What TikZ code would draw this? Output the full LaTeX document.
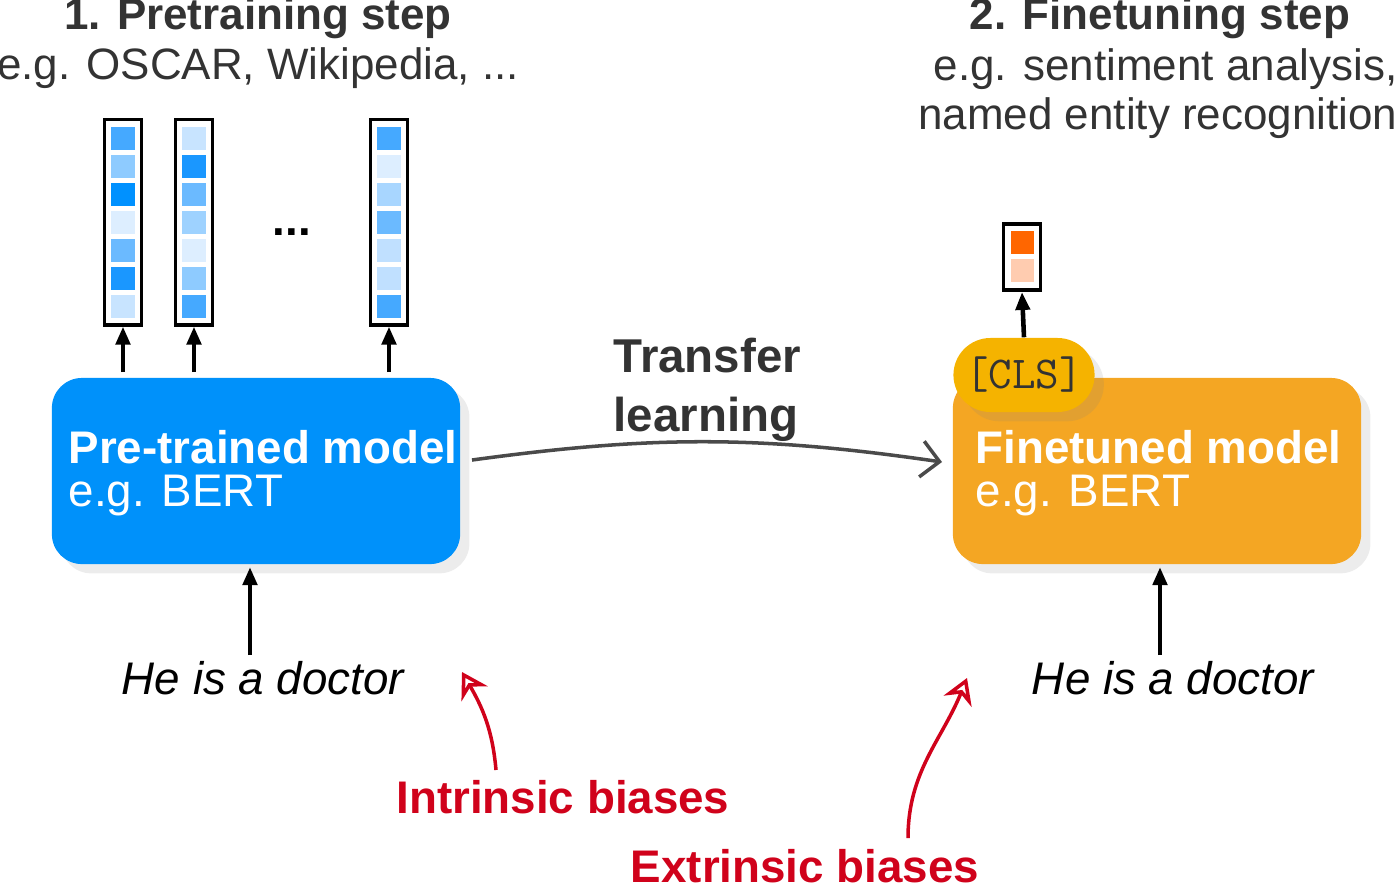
\documentclass[tikz,border=0pt]{standalone}
\usepackage{fontspec}
\setmainfont{Liberation Sans}
\usetikzlibrary{positioning,arrows.meta,shadows}
\definecolor{pretrainblue}{HTML}{0091FA}
\definecolor{finetuneorange}{HTML}{F4A623}
\definecolor{clsyellow}{HTML}{F5B300}
\definecolor{biasred}{HTML}{D0021B}
\definecolor{textgray}{HTML}{333333}
\definecolor{arrowgray}{HTML}{4A4A4A}
\begin{document}
\begin{tikzpicture}
[
	x = 0.01cm, y = -0.01cm,
	title/.style	= {font = \fontsize{12.5}{14}\selectfont\bfseries, text = textgray, inner sep = 0},
	sub/.style	= {font = \fontsize{12.5}{15}\selectfont, text = textgray, inner sep = 0},
	model/.style	= {rounded corners = 0.3cm, minimum width = 4.08cm, minimum height = 1.86cm, drop shadow = {opacity = 0.15}},
	modeltext/.style	= {font = \fontsize{13}{16}\selectfont, text = white, align = left, inner sep = 0},
	sentence/.style	= {font = \fontsize{13}{15}\selectfont\itshape, inner sep = 0},
	bias/.style	= {font = \fontsize{13}{15}\selectfont\bfseries, text = biasred, inner sep = 0},
	vec/.style	= {draw = black, line width = 1.1pt, fill = white, minimum width = 0.37cm, inner sep = 0},
	cell/.style	= {minimum width = 0.23cm, minimum height = 0.23cm, inner sep = 0},
	up/.style	= {-{Triangle[length = 0.18cm, width = 0.14cm]}, line width = 1.3pt},
	redarrow/.style	= {-{Stealth[length = 0.25cm, width = 0.3cm, open]}, biasred, line width = 1pt},
]
	\useasboundingbox (0,0) rectangle (1400,887);

	% titles
	\node (t1) [title] at (258,18) {1. Pretraining step};
	\node (s1) [sub] at (258,68) {e.g. OSCAR, Wikipedia, ...};
	\node (t2) [title] at (1160,18) {2. Finetuning step};
	\node (s2) [sub, align = right, anchor = north east] at (1398,48) {e.g. sentiment analysis,\\[-1pt]named entity recognition};

	% models
	\node (pre) [model, fill = pretrainblue] at (256,471) {};
	\node (fine) [model, fill = finetuneorange] at (1157,471) {};
	\node [modeltext, anchor = west] at (68,447) {\bfseries Pre-trained model};
	\node [modeltext, anchor = west] at (68,495) {e.g. BERT};
	\node [modeltext, anchor = west] at (975,447) {\bfseries Finetuned model};
	\node [modeltext, anchor = west] at (975,495) {e.g. BERT};
	\node (cls) [fill = clsyellow, rounded corners = 0.37cm, minimum width = 1.38cm, minimum height = 0.74cm, drop shadow = {opacity = 0.15}, font = \ttfamily\fontsize{13}{15}\selectfont, text = textgray] at (1024,375) {[CLS]};

	% embedding vectors
	\foreach \name/\x/\cols in {v1/123/{45A9FF,8ECBFF,0091FF,DDEEFF,6BBAFF,1A97FF,C8E4FF},
		v2/194/{C8E4FF,1A97FF,6BBAFF,9ED2FF,DDEEFF,8ECBFF,45A9FF},
		v3/389/{45A9FF,DDEEFF,A8D6FF,6BBAFF,C0E0FF,C0E0FF,45A9FF}}
	{
		\node (\name) [vec, minimum height = 2.05cm] at (\x,222) {};
		\foreach \c [count = \i] in \cols
		{
			\definecolor{cellcol}{HTML}{\c}
			\node [cell, fill = cellcol] at (\x,110+28*\i) {};
		}
		\draw [up] (\x,372) -- (\name.south);
	}
	\node (dots) at (292,232) {\bfseries\fontsize{13}{13}\selectfont ...};

	% classifier output
	\node (out) [vec, minimum height = 0.66cm] at (1022,257) {};
	\definecolor{cellhi}{HTML}{FF6600}
	\definecolor{celllo}{HTML}{FFCCB0}
	\node [cell, fill = cellhi] at (1022,242) {};
	\node [cell, fill = celllo] at (1022,270) {};
	\draw [up] (cls.north) -- (out.south);

	% inputs
	\node (in1) [sentence] at (263,678) {He is a doctor};
	\node (in2) [sentence] at (1173,678) {He is a doctor};
	\draw [up] (250,655) -- (250,567);
	\draw [up] (1160,655) -- (1160,567);

	% transfer
	\node (tl) [title, align = left, anchor = north west, font = \fontsize{13.5}{17}\selectfont\bfseries] at (613,337) {Transfer\\learning};
	\draw [arrowgray, line width = 1pt, -{Straight Barb[length = 0.18cm, width = 0.36cm]}] (472,460) to [bend left = 8] (942,462);

	% biases
	\node (ib) [bias] at (563,797) {Intrinsic biases};
	\node (eb) [bias] at (805,866) {Extrinsic biases};
	\coordinate (ibend) at (462,672);
	\coordinate (ebend) at (967,678);
	\draw [redarrow] (496,770) to [out = 95, in = -60] (ibend);
	\draw [redarrow] (908,838) to [out = 90, in = -112] (ebend);
\end{tikzpicture}
\end{document}
